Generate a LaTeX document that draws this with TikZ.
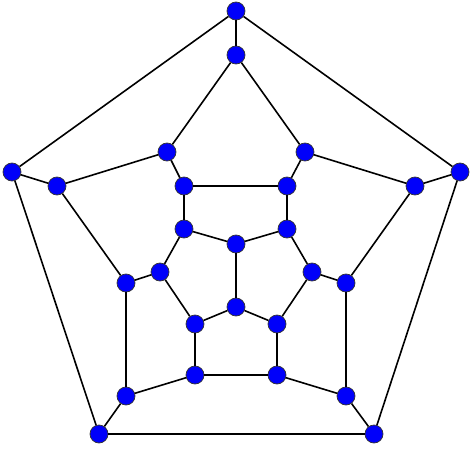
\documentclass[tikz,border=0pt]{standalone}
\begin{document}
\begin{tikzpicture}[x=1pt,y=-1pt,
  vtx/.style={circle,draw=black!80,fill={rgb,255:red,0;green,0;blue,250},line width=0.7pt,minimum size=18pt,inner sep=0pt},
  edge/.style={line width=1.6pt,black}]
\useasboundingbox (0,0) rectangle (474,452);
\fill[white] (0,0) rectangle (474,452);
\node[vtx] (A) at (236,11) {};
\node[vtx] (B) at (236,55) {};
\node[vtx] (Lo) at (12,172) {};
\node[vtx] (Ro) at (460,172) {};
\node[vtx] (L2) at (57,186) {};
\node[vtx] (R2) at (415,186) {};
\node[vtx] (Cl) at (167,152) {};
\node[vtx] (Cr) at (305,152) {};
\node[vtx] (Dl) at (184,186) {};
\node[vtx] (Dr) at (287,186) {};
\node[vtx] (El) at (184,229) {};
\node[vtx] (Er) at (287,229) {};
\node[vtx] (F) at (236,244) {};
\node[vtx] (Gl) at (160,272) {};
\node[vtx] (Gr) at (312,272) {};
\node[vtx] (Hl) at (126,283) {};
\node[vtx] (Hr) at (346,283) {};
\node[vtx] (I) at (236,307) {};
\node[vtx] (Jl) at (195,324) {};
\node[vtx] (Jr) at (277,324) {};
\node[vtx] (Kl) at (195,375) {};
\node[vtx] (Kr) at (277,375) {};
\node[vtx] (Ml) at (126,396) {};
\node[vtx] (Mr) at (346,396) {};
\node[vtx] (Nl) at (99,434) {};
\node[vtx] (Nr) at (374,434) {};
\foreach \a/\b in {A/B,A/Lo,A/Ro,B/Cl,B/Cr,Lo/L2,Ro/R2,Lo/Nl,Ro/Nr,L2/Cl,R2/Cr,L2/Hl,R2/Hr,Cl/Dl,Cr/Dr,Dl/Dr,Dl/El,Dr/Er,El/F,Er/F,El/Gl,Er/Gr,F/I,Gl/Hl,Gr/Hr,Gl/Jl,Gr/Jr,I/Jl,I/Jr,Jl/Kl,Jr/Kr,Kl/Kr,Kl/Ml,Kr/Mr,Hl/Ml,Hr/Mr,Ml/Nl,Mr/Nr,Nl/Nr}
  \draw[edge] (\a) -- (\b);
\end{tikzpicture}
\end{document}
